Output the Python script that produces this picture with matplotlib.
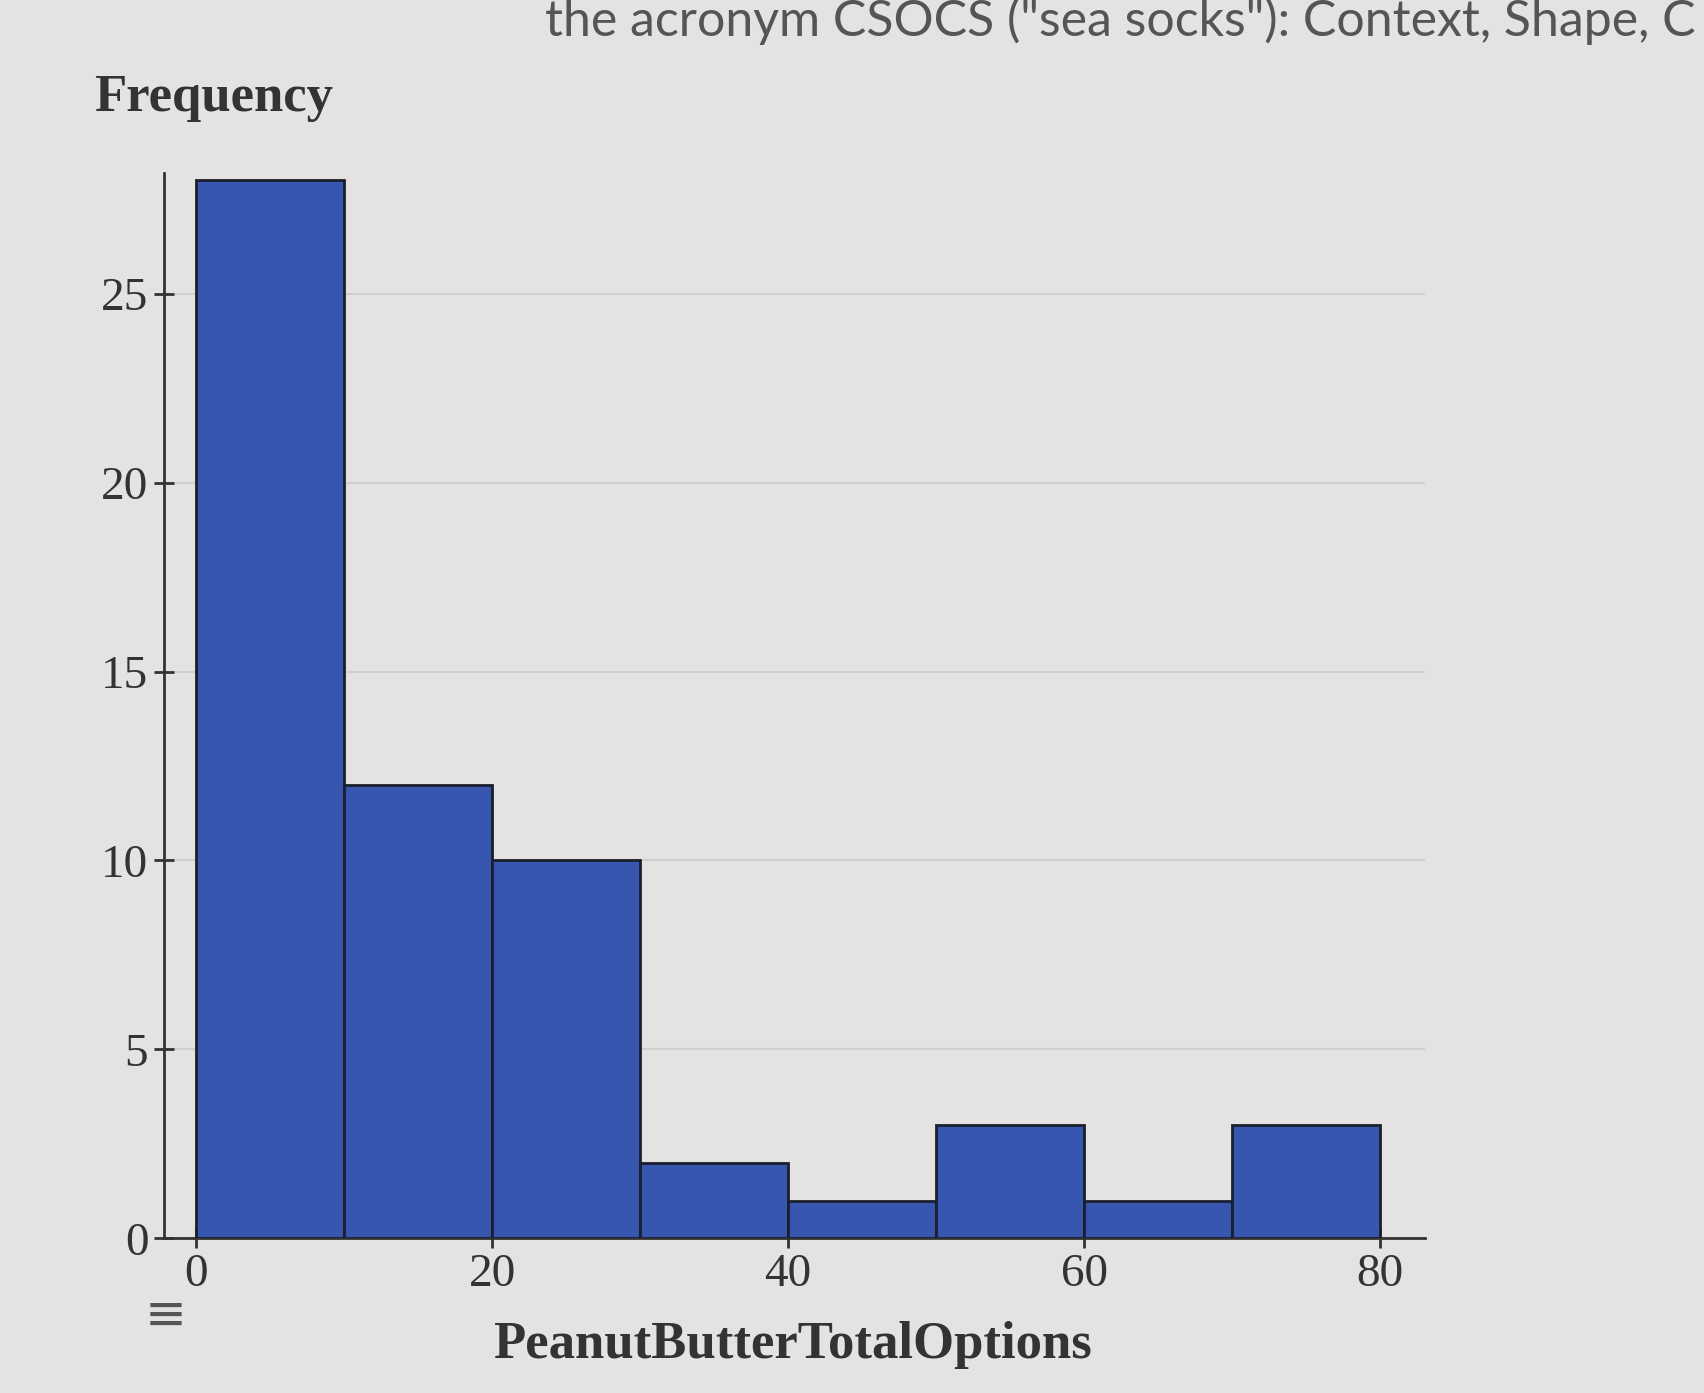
import numpy as np
import matplotlib.pyplot as plt

# histogram of PeanutButterTotalOptions, bins of width 10
bin_edges = [0, 10, 20, 30, 40, 50, 60, 70, 80]
counts = [28, 12, 10, 2, 1, 3, 1, 3]
xticks = [0, 20, 40, 60, 80]
yticks = [0, 5, 10, 15, 20, 25]

plt.rcParams['font.family'] = ['Liberation Serif', 'DejaVu Serif']

fig = plt.figure(figsize=(17.04, 13.93), dpi=100)
fig.patch.set_facecolor('#e4e3e1')
ax = fig.add_axes([0.096, 0.111, 0.74, 0.765])
ax.set_facecolor('#e4e3e1')

widths = np.diff(bin_edges)
ax.bar(bin_edges[:-1], counts, width=widths, align='edge',
       color='#3656b0', edgecolor='#1a1f2e', linewidth=2, zorder=3)

ax.set_xlim(-2.2, 83)
ax.set_ylim(0, 28.2)
ax.set_xticks(xticks)
ax.set_yticks(yticks)
ax.grid(axis='y', color='#cfcfcf', linewidth=1.5, zorder=0)
for s in ['top', 'right']:
    ax.spines[s].set_visible(False)
ax.spines['left'].set_linewidth(2)
ax.spines['bottom'].set_linewidth(2)
ax.spines['left'].set_color('#333333')
ax.spines['bottom'].set_color('#333333')
ax.tick_params(direction='inout', length=14, width=2, labelsize=34,
               colors='#333333', pad=4)

fig.text(0.055, 0.92, 'Frequency', fontsize=38, color='#333333',
         fontweight='bold')
fig.text(0.465, 0.025, 'PeanutButterTotalOptions', fontsize=38,
         color='#333333', ha='center', fontweight='bold')
fig.text(0.085, 0.045, '\u2261', fontsize=36, color='#555555',
         family='DejaVu Sans')
fig.text(0.995, 0.985, 'the acronym CSOCS ("sea socks"): Context, Shape, C',
         fontsize=36, color='#555555', family='Lato', va='center', ha='right')

fig.savefig('out.png', facecolor=fig.get_facecolor())
